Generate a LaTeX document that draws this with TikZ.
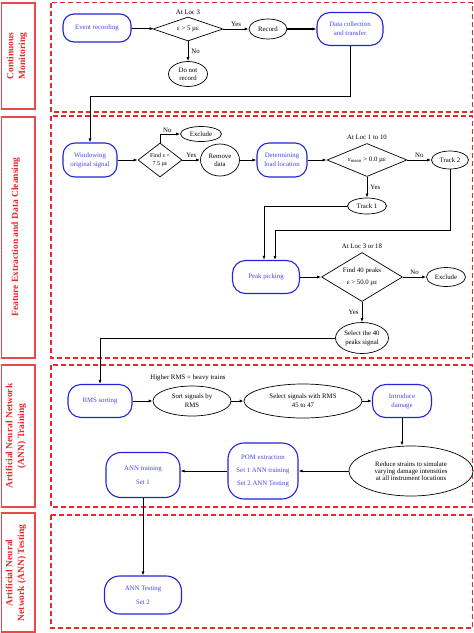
\documentclass[tikz,border=0pt]{standalone}
\usepackage{fontspec}
\setmainfont{Liberation Serif}
\usetikzlibrary{shapes.geometric,arrows.meta,calc}
\definecolor{pblue}{RGB}{35,35,215}
\definecolor{tblue}{RGB}{70,70,225}
\definecolor{sred}{RGB}{232,40,45}
\begin{document}
\begin{tikzpicture}[x=1pt,y=-1pt,
 font=\fontsize{6.8}{8.2}\selectfont,
 proc/.style={draw=pblue,line width=1.1pt,rounded corners=11pt,text=tblue,align=center,inner sep=0pt},
 ell/.style={draw,ellipse,line width=0.7pt,align=center,inner sep=0pt},
 dia/.style={draw,diamond,line width=0.7pt,align=center,inner sep=0pt},
 arr/.style={-{Latex[length=4pt,width=3pt]},line width=0.8pt},
 lab/.style={draw=sred!85,line width=1.2pt},
 sec/.style={draw=sred,line width=1.4pt,dash pattern=on 5pt off 3pt},
 stitle/.style={text=sred,font=\fontsize{9.5}{11.8}\selectfont\bfseries,rotate=90,align=center},
 ]
\useasboundingbox (0,0) rectangle (474,633);
% section frames
\draw[lab] (1.5,3) rectangle (35,109);
\node[stitle] (s1) at (17,56) {Continuous\\Monitoring};
\draw[sec] (51,2.5) rectangle (472.5,112);
\draw[lab] (1.5,117) rectangle (35,358);
\node[stitle] (s2) at (16,237) {Feature Extraction and Data Cleansing};
\draw[sec] (51,116) rectangle (472.5,358);
\draw[lab] (1.5,365) rectangle (35,507);
\node[stitle] (s3) at (16,436) {Artificial Neural Network\\(ANN) Training};
\draw[sec] (51,365) rectangle (472.5,507);
\draw[lab] (1.5,513) rectangle (35,632);
\node[stitle] (s4) at (16,573) {Artificial Neural\\Network (ANN) Testing};
\draw[sec] (51,515) rectangle (472.5,628);

% section 1
\node[proc,minimum width=68,minimum height=28] (er) at (97,28) {Event recording};
\node[dia,minimum width=70,minimum height=24,aspect=2.9] (d1) at (188,29) {ε > 5 µε};
\node (loc3) at (188,12) {At Loc 3};
\node[ell,minimum width=38,minimum height=20] (rec) at (268,29) {Record};
\node[proc,minimum width=66,minimum height=33,rounded corners=13pt] (dc) at (350,29) {Data collection\\[1pt]and transfer};
\node[ell,minimum width=39,minimum height=25] (dnr) at (188,74) {Do not\\record};
\draw[arr] (er) -- (d1);
\draw[arr] (d1) -- node[above,inner sep=2pt]{Yes} (rec);
\draw[arr,line width=1.4pt] (rec) -- (dc);
\draw[arr] (d1) -- node[right,inner sep=3pt]{No} (dnr);

% section 2
\node[proc,minimum width=54,minimum height=34,rounded corners=12pt] (win) at (90,160) {Windowing\\[1pt]original signal};
\coordinate (b1) at (0,96);
\draw[arr] (dc.south) -- (dc.south |- b1) -| (win.north);
\node[dia,minimum width=44,minimum height=34,aspect=1.3,font=\fontsize{6}{7.5}\selectfont] (d2) at (160,160) {Find ε <\\7.5 µε};
\node[ell,minimum width=41,minimum height=15] (ex1) at (201,134) {Exclude};
\node[ell,minimum width=39,minimum height=32] (rd) at (220,160) {Remove\\data};
\node[proc,minimum width=50,minimum height=34,rounded corners=12pt] (dl) at (282,160) {Determining\\[1pt]load location};
\node[dia,minimum width=80,minimum height=33,aspect=2.4] (d3) at (367,160) {ε\textsubscript{mean} > 0.0 µε};
\node (loc110) at (367,137) {At Loc 1 to 10};
\node[ell,minimum width=37,minimum height=18] (t2) at (450,160) {Track 2};
\node[ell,minimum width=39,minimum height=16] (t1n) at (367,206) {Track 1};
\draw[arr] (win) -- (d2);
\draw[arr] (d2.north) |- (ex1.west) node[pos=0.68,above,inner sep=1.5pt]{No};
\draw[arr] (d2) -- node[above,inner sep=2pt]{Yes} (rd);
\draw[arr] (rd) -- (dl);
\draw[arr] (dl) -- (d3);
\draw[arr] (d3) -- node[above,inner sep=2pt]{No} (t2);
\draw[arr] (d3) -- node[right,inner sep=3pt]{Yes} (t1n);

\node[proc,minimum width=67,minimum height=33,rounded corners=13pt] (pp) at (266,277) {Peak picking};
\draw[arr] (t1n.west) -| ([xshift=-2pt]pp.north);
\coordinate (b2) at (0,230);
\draw[arr] (t2.south) -- (t2.south |- b2) -| ([xshift=9pt]pp.north);
\node[dia,minimum width=81,minimum height=49,aspect=1.65] (d4) at (362,277) {Find 40 peaks\\[4pt]ε > 50.0 µε};
\node (loc318) at (362,246) {At Loc 3 or 18};
\node[ell,minimum width=39,minimum height=19] (ex2) at (446,277) {Exclude};
\node[ell,minimum width=53,minimum height=31] (sel) at (362,338) {Select the 40\\[1pt]peaks signal};
\draw[arr] (pp) -- (d4);
\draw[arr] (d4) -- node[above,inner sep=2pt]{No} (ex2);
\draw[arr] (d4) -- node[left,inner sep=3pt]{Yes} (sel);

% section 3
\node[proc,minimum width=64,minimum height=33,rounded corners=13pt] (rms) at (100,401) {RMS sorting};
\draw[arr] (sel.west) -| (rms.north);
\node[ell,minimum width=78,minimum height=30] (srt) at (192,401) {Sort signals by\\[1pt]RMS};
\node (hrms) at (188,378) {Higher RMS = heavy trains};
\node[ell,minimum width=118,minimum height=34] (ssr) at (303,401) {Select signals with RMS\\[1pt]45 to 47};
\node[proc,minimum width=59,minimum height=33,rounded corners=13pt] (idm) at (402,401) {Introduce\\[1pt]damage};
\node[ell,minimum width=124,minimum height=50,font=\fontsize{6.8}{7}\selectfont] (red) at (411,471) {Reduce strains to simulate\\varying damage intensities\\at all instrument locations};
\node[proc,minimum width=70,minimum height=56,rounded corners=16pt] (pom) at (263,471) {POM extraction\\[5pt]Set 1 ANN training\\[5pt]Set 2 ANN Testing};
\node[proc,minimum width=74,minimum height=45,rounded corners=15pt] (ant) at (143,475) {ANN training\\[6pt]Set 1};
\draw[arr] (rms) -- (srt);
\draw[arr] (srt) -- (ssr);
\draw[arr] (ssr) -- (idm);
\draw[arr] (idm.south) -- (idm.south |- red.north);
\draw[arr] (red) -- (pom);
\draw[arr] (pom.west) -- (pom.west -| ant.east);

% section 4
\node[proc,minimum width=77,minimum height=38,rounded corners=15pt] (ans) at (143,595) {ANN Testing\\[6pt]Set 2};
\draw[arr] (ant) -- (ans);
\end{tikzpicture}
\end{document}
